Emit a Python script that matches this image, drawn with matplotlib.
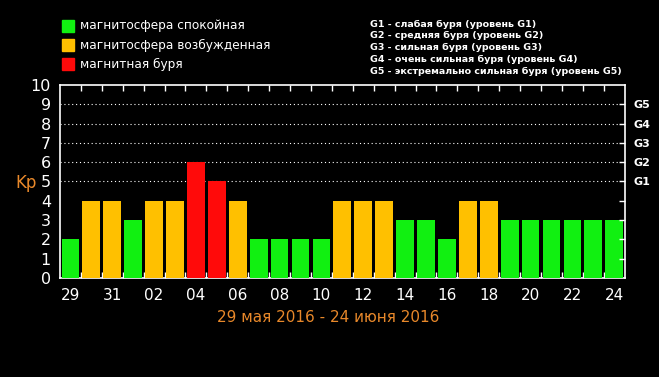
import matplotlib
matplotlib.use("Agg")
import matplotlib.pyplot as plt
from matplotlib.patches import Rectangle

days = ["29", "30", "31", "01", "02", "03", "04", "05", "06", "07", "08", "09", "10", "11",
        "12", "13", "14", "15", "16", "17", "18", "19", "20", "21", "22", "23", "24"]
kp = [2, 4, 4, 3, 4, 4, 6, 5, 4, 2, 2, 2, 2, 4, 4, 4, 3, 3, 2, 4, 4, 3, 3, 3, 3, 3, 3]
g_levels = ["G1", "G2", "G3", "G4", "G5"]
g_text = ["G1 - слабая буря (уровень G1)",
          "G2 - средняя буря (уровень G2)",
          "G3 - сильная буря (уровень G3)",
          "G4 - очень сильная буря (уровень G4)",
          "G5 - экстремально сильная буря (уровень G5)"]
legend_labels = ["магнитосфера спокойная", "магнитосфера возбужденная", "магнитная буря"]

GREEN = "#11f011"
ORANGE = "#ffc000"
RED = "#ff0a0a"
legend_colors = [GREEN, ORANGE, RED]

def color_for(v):
    if v >= 5:
        return RED
    if v >= 4:
        return ORANGE
    return GREEN

fig = plt.figure(figsize=(6.59, 3.77), dpi=100, facecolor="black")
ax = fig.add_axes([0.091, 0.2626, 0.857, 0.512], facecolor="black")

x = list(range(len(days)))
ax.bar(x, kp, width=0.85, color=[color_for(v) for v in kp], zorder=3)
ax.set_xlim(-0.5, len(days) - 0.5)
ax.set_ylim(0, 10)

# dotted grid lines for storm levels
for lv in range(5, 10):
    ax.axhline(lv, color="white", linestyle=(0, (1, 2.5)), linewidth=0.8, zorder=1)

for s in ax.spines.values():
    s.set_color("white")
    s.set_linewidth(1.2)

ax.set_yticks(range(0, 11))
ax.set_yticklabels([str(i) for i in range(0, 11)], color="white", fontsize=11.5)
ax.tick_params(axis="y", left=False, pad=3)
ax.set_xticks(x[::2])
ax.set_xticklabels(days[::2], color="white", fontsize=11)
ax.tick_params(axis="x", bottom=False, pad=4)

# minor ticks at slot boundaries, top and bottom, pointing inward
bounds = [i + 0.5 for i in range(len(days) - 1)]
ax.set_xticks(bounds, minor=True)
ax.tick_params(axis="x", which="minor", bottom=True, top=True, direction="in",
               length=4, color="white", width=1)

# right axis with G levels
ax2 = ax.twinx()
ax2.set_ylim(0, 10)
ax2.set_yticks(range(1, 10))
ax2.set_yticklabels(["", "", "", ""] + g_levels, color="white", fontsize=8,
                    fontweight="bold")
ax2.tick_params(axis="y", right=True, direction="in", length=4, color="white",
                width=1, pad=6)
for s in ax2.spines.values():
    s.set_visible(False)

fig.text(0.04, 0.515, "Kp", color="#e8882a", fontsize=12, ha="center", va="center")
fig.text(0.498, 0.158, "29 мая 2016 - 24 июня 2016", color="#e8882a",
         fontsize=11, ha="center", va="center")

# legend top left
for i, (lab, col) in enumerate(zip(legend_labels, legend_colors)):
    y = 1 - (26 + i * 19) / 377
    fig.patches.append(Rectangle((62 / 659, y - 6 / 377), 12 / 659, 12 / 377,
                                 transform=fig.transFigure, color=col))
    fig.text(80 / 659, y, lab, color="white", fontsize=8.7, va="center")

# G level descriptions top right
for i, t in enumerate(g_text):
    y = 1 - (24 + i * 11.8) / 377
    fig.text(370 / 659, y, t, color="white", fontsize=6.8, fontweight="bold", va="center")

fig.savefig("out.png", dpi=100, facecolor="black")
